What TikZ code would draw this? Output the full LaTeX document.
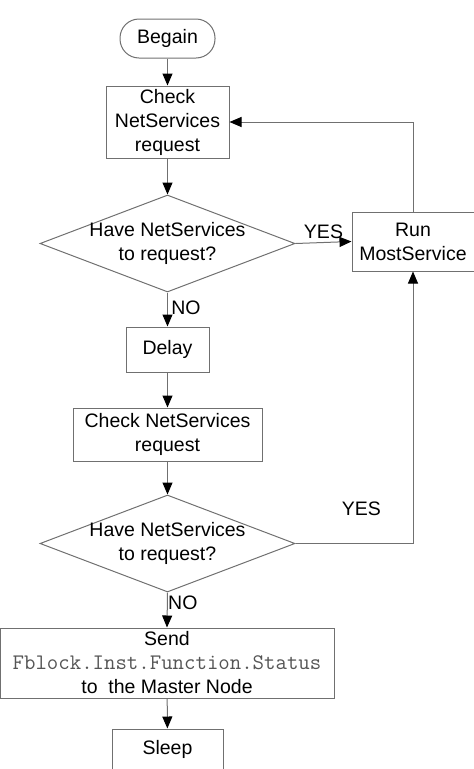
\documentclass[tikz,border=0pt]{standalone}
\usepackage{fontspec}
\setmainfont{Liberation Sans}
\usepackage{tikz}
\usetikzlibrary{arrows.meta,shapes.geometric}

\definecolor{edgegray}{HTML}{707070}
\definecolor{codegray}{HTML}{555555}

\tikzset{
  every node/.style={font=\fontsize{19.5}{24}\selectfont},
  terminal/.style={draw=edgegray,line width=1pt,rounded corners=19pt,
    minimum width=95pt,minimum height=39pt,inner sep=0pt},
  procbox/.style={draw=edgegray,line width=1pt,align=center,inner sep=0pt},
  decision/.style={draw=edgegray,line width=1pt,diamond,aspect=2.63,
    minimum width=255pt,minimum height=97pt,inner sep=-3pt,align=center},
  flow/.style={draw=edgegray,line width=1pt,
    -{Triangle[length=12pt,width=10pt,color=black]}},
}

\begin{document}
\begin{tikzpicture}[x=1pt,y=-1pt]
  \useasboundingbox (0,0) rectangle (474,769);

  \node[terminal] (begain) at (167.5,38.5) {Begain};
  \node[procbox,minimum width=123pt,minimum height=72pt] (check1) at (167.5,122)
    {Check\\NetServices\\request};
  \node[decision] (dia1) at (167.5,243.5) {Have NetServices\\to request?};
  \node[procbox,minimum width=122pt,minimum height=59pt] (run) at (413,241.5)
    {Run\\MostService};
  \node[procbox,minimum width=83pt,minimum height=45pt] (delay) at (167.5,349.5) {Delay};
  \node[procbox,minimum width=189pt,minimum height=53pt] (check2) at (167.5,434.5)
    {Check NetServices\\request};
  \node[decision] (dia2) at (167.5,543.5) {Have NetServices\\to request?};
  \node[procbox,minimum width=334pt,minimum height=70pt] (send) at (167,663)
    {Send\\{\fontsize{22.2}{24}\ttfamily\color{codegray}Fblock.Inst.Function.Status}\\to\ \ the Master Node};
  \node[procbox,minimum width=111pt,minimum height=40pt] (sleep) at (167.5,749) {Sleep};

  % main line
  \draw[flow] (begain) -- (check1);
  \draw[flow] (check1) -- (dia1);
  \draw[flow] (dia1.east) -- node[above] {YES} (run.west);
  \draw[flow] (run.north) |- (check1.east);
  \draw[flow] (dia1.south) -- node[right,pos=0.45] {NO} (delay.north);
  \draw[flow] (delay) -- (check2);
  \draw[flow] (check2) -- (dia2);
  \draw[flow] (dia2.east) -| node[pos=0.28,above=24pt] {YES} (run.south);
  \draw[flow] (dia2.south) -- node[right,pos=0.3,xshift=-3pt] {NO} (send.north);
  \draw[flow] (send) -- (sleep);
\end{tikzpicture}
\end{document}
